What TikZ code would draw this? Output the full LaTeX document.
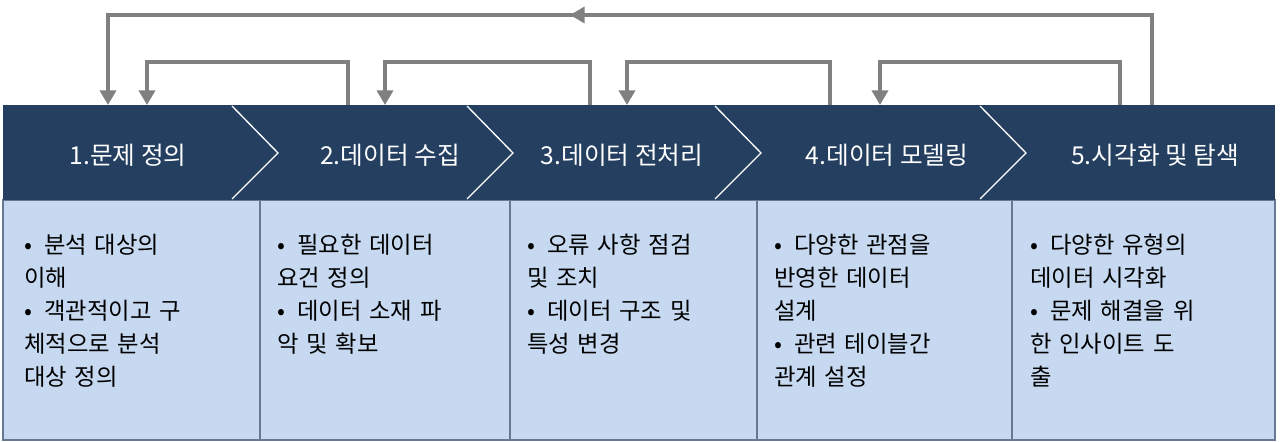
\documentclass[tikz,border=0pt]{standalone}
\usepackage{fontspec}
\setmainfont{Noto Sans CJK KR}
\usetikzlibrary{arrows.meta}
\definecolor{navy}{HTML}{243F60}
\definecolor{paleblue}{HTML}{C6D9F1}
\definecolor{loopgray}{HTML}{808080}
\newcommand{\bul}[1]{\par\hangindent=15pt\hangafter=1\noindent\makebox[15pt][l]{•}#1}
\begin{document}
\begin{tikzpicture}[x=0.75pt,y=-0.75pt,
    head/.style={text=white, font=\fontsize{18.5}{22}\selectfont, anchor=center},
    stepcol/.style={draw=navy!70, fill=paleblue, line width=0.8pt},
    bullets/.style={anchor=north west, text width=185pt, inner sep=0pt,
        font=\fontsize{17.5}{24.8}\selectfont\raggedright},
    loop/.style={draw=loopgray, line width=3.4pt, -{Triangle[length=11pt,width=12pt]}}
]
    \useasboundingbox (0,0) rectangle (1280,442);
    % boxes
    \foreach \xa/\xb [count=\i] in {3/260,260/510,510/757,757/1012,1012/1275}
        \draw[stepcol] (\xa,200) rectangle (\xb,440);
    % band
    \fill[navy] (3,105) rectangle (1275,200);
    \foreach \xc in {232,467,715,980}
        \draw[white, line width=1pt] (\xc,106) -- (\xc+46,153) -- (\xc,199);
    % headers
    \node[head] (h1) at (128,155) {1.문제 정의};
    \node[head] (h2) at (390,155) {2.데이터 수집};
    \node[head] (h3) at (622,155) {3.데이터 전처리};
    \node[head] (h4) at (887,155) {4.데이터 모델링};
    \node[head] (h5) at (1155,155) {5.시각화 및 탐색};
    % texts
    \node[bullets] (b1) at (24,220) {\bul{분석 대상의\\이해}\bul{객관적이고 구\\체적으로 분석\\대상 정의}};
    \node[bullets] (b2) at (277,220) {\bul{필요한 데이터\\요건 정의}\bul{데이터 소재 파\\악 및 확보}};
    \node[bullets] (b3) at (527,220) {\bul{오류 사항 점검\\및 조치}\bul{데이터 구조 및\\특성 변경}};
    \node[bullets] (b4) at (774,220) {\bul{다양한 관점을\\반영한 데이터\\설계}\bul{관련 테이블간\\관계 설정}};
    \node[bullets] (b5) at (1030,220) {\bul{다양한 유형의\\데이터 시각화}\bul{문제 해결을 위\\한 인사이트 도\\출}};
    % feedback loops
    \coordinate (s2) at (348,105); \coordinate (t1) at (147,105);
    \coordinate (s3) at (590,105); \coordinate (t2) at (385,105);
    \coordinate (s4) at (830,105); \coordinate (t3) at (627,105);
    \coordinate (s5) at (1120,105); \coordinate (t4) at (880,105);
    \coordinate (s0) at (1152,105); \coordinate (t0) at (108,105);
    \coordinate (c0) at (1152,15); \coordinate (m0) at (570,15);
    \foreach \s/\t in {s2/t1,s3/t2,s4/t3,s5/t4}
        \draw[loop] (\s) -- ++(0,-43) -| (\t);
    \draw[loop, -] (s0) -- (c0) -- (m0);
    \draw[loop] (c0) -- (m0);
    \draw[loop] (m0) -| (t0);
\end{tikzpicture}
\end{document}
